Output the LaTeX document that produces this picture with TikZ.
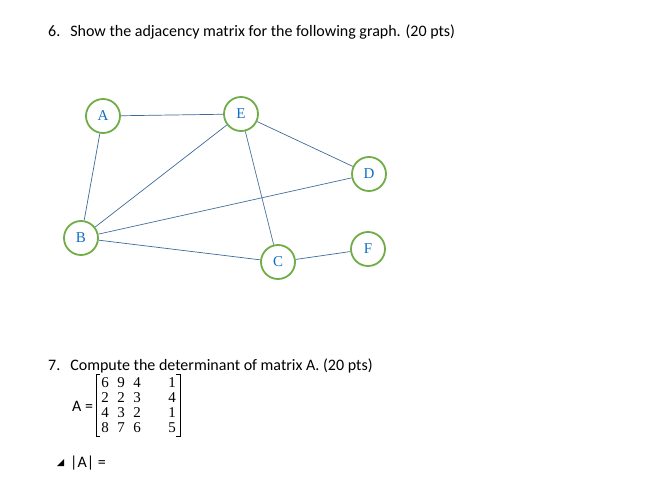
\documentclass[tikz,border=0pt]{standalone}
\usepackage{fontspec}
\setmainfont{Carlito}
\newfontfamily\nodefont{Liberation Serif}
\definecolor{ringgreen}{HTML}{70AD47}
\definecolor{edgeblue}{HTML}{3E6A99}
\definecolor{lettblue}{HTML}{1070C0}
\begin{document}
\begin{tikzpicture}[x=1pt,y=-1pt,
  vtx/.style={circle,draw=ringgreen,line width=1.8pt,fill=white,minimum size=34pt,inner sep=0pt,font=\nodefont\fontsize{15}{17}\selectfont,text=lettblue},
  edge/.style={draw=edgeblue,line width=0.7pt},
  txt/.style={anchor=west,inner sep=0pt,font=\fontsize{16}{19}\selectfont},
  num/.style={inner sep=0pt,font=\nodefont\fontsize{15}{15}\selectfont}]
\useasboundingbox (0,0) rectangle (656,503);
\node[txt] (q6) at (48,32) {6.\hspace{10pt}Show the adjacency matrix for the following graph. (20 pts)};
\node[vtx] (A) at (103,116) {A};
\node[vtx] (E) at (241,114) {E};
\node[vtx] (D) at (369,174) {D};
\node[vtx] (B) at (81,238) {B};
\node[vtx] (C) at (278,262) {C};
\node[vtx] (F) at (368,249) {F};
\draw[edge] (A) -- (E);
\draw[edge] (A) -- (B);
\draw[edge] (E) -- (B);
\draw[edge] (E) -- (C);
\draw[edge] (E) -- (D);
\draw[edge] (B) -- (D);
\draw[edge] (B) -- (C);
\draw[edge] (C) -- (F);
\node[txt] (q7) at (48,366) {7.\hspace{10pt}Compute the determinant of matrix A. (20 pts)};
\node[txt] (Aeq) at (72,406) {A =};
\foreach \r/\y/\a/\b/\c/\d in {1/383/6/9/4/1,2/398/2/2/3/4,3/413/4/3/2/1,4/428/8/7/6/5}{
  \node[num] (m\r a) at (105,\y) {\a};
  \node[num] (m\r b) at (121,\y) {\b};
  \node[num] (m\r c) at (137,\y) {\c};
  \node[num] (m\r d) at (172,\y) {\d};
}
\draw[line width=0.8pt] (100,374) -- (96,374) -- (96,436) -- (100,436);
\draw[line width=0.8pt] (176,374) -- (180,374) -- (180,436) -- (176,436);
\fill (57,466) -- (64,459) -- (64,466) -- cycle;
\node[txt] (det) at (70,463) {|A| =};
\end{tikzpicture}
\end{document}
